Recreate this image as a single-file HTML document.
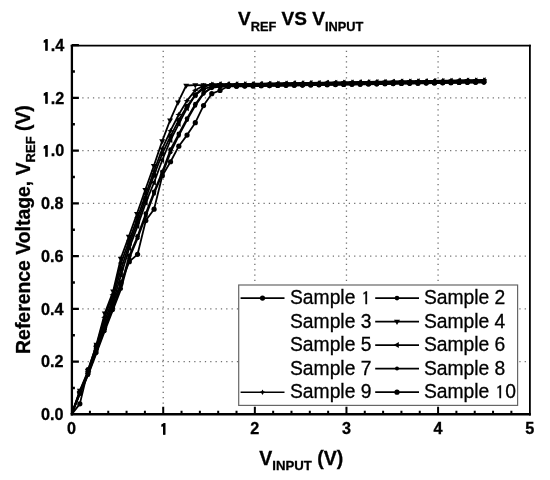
<!DOCTYPE html>
<html><head><meta charset="utf-8"><title>VREF vs VINPUT</title>
<style>
html,body{margin:0;padding:0;background:#fff;}
body{width:550px;height:480px;overflow:hidden;}
svg{display:block;}
text{font-family:"Liberation Sans",Arial,sans-serif;fill:#000;}
.b{font-weight:bold;stroke:#000;stroke-width:0.3px;}
.lt{stroke:#000;stroke-width:0.3px;}
.o{font-family:"IPAGothic","Liberation Sans",sans-serif;stroke:#000;}
</style></head><body>
<svg width="550" height="480" viewBox="0 0 550 480">
<rect width="550" height="480" fill="#fff"/>
<g stroke="#707070" stroke-width="1.3" stroke-dasharray="1.25 4.08" transform="translate(0 -0.62)"><line x1="163.22" y1="51.25" x2="163.22" y2="412"/><line x1="254.84" y1="51.25" x2="254.84" y2="412"/><line x1="346.46" y1="51.25" x2="346.46" y2="412"/><line x1="438.08" y1="51.25" x2="438.08" y2="412"/></g>
<g stroke="#707070" stroke-width="1.3" stroke-dasharray="1.25 4.08" transform="translate(-0.62 0)"><line x1="82.9" y1="361.65" x2="528" y2="361.65"/><line x1="82.9" y1="308.90" x2="528" y2="308.90"/><line x1="82.9" y1="256.15" x2="528" y2="256.15"/><line x1="82.9" y1="203.40" x2="528" y2="203.40"/><line x1="82.9" y1="150.65" x2="528" y2="150.65"/><line x1="82.9" y1="97.90" x2="528" y2="97.90"/></g>
<path d="M71.60 414.40 L79.85 390.66 L88.09 370.88 L96.44 344.51 L104.78 313.38 L113.13 291.23 L120.77 258.52 L128.82 236.63 L136.97 213.69 L145.31 189.68 L153.86 165.68 L162.20 141.15 L170.05 120.32 L178.00 102.38 L186.24 85.50 L195.29 85.11 L203.53 85.11 L211.78 85.11 L220.02 85.11 L228.27 85.11 L236.52 85.11 L244.76 84.97 L253.01 84.84 L261.25 84.70 L269.50 84.57 L277.75 84.43 L285.99 84.30 L294.24 84.16 L302.48 84.03 L310.73 83.89 L318.97 83.76 L327.22 83.62 L335.47 83.48 L343.71 83.35 L351.96 83.21 L360.20 83.08 L368.45 82.94 L376.69 82.81 L384.94 82.67 L393.19 82.54 L401.43 82.40 L409.68 82.27 L417.92 82.13 L426.17 82.00 L434.42 81.86 L442.66 81.73 L450.91 81.59 L459.15 81.45 L467.40 81.32 L475.64 81.18 L483.89 81.05" fill="none" stroke="#000" stroke-width="1.8" stroke-linejoin="round"/>
<g fill="#000"><path d="M76.85 388.86H82.85L79.85 393.96Z"/><path d="M85.09 369.08H91.09L88.09 374.18Z"/><path d="M93.44 342.71H99.44L96.44 347.81Z"/><path d="M101.78 311.58H107.78L104.78 316.68Z"/><path d="M110.13 289.43H116.13L113.13 294.53Z"/><path d="M117.77 256.72H123.77L120.77 261.82Z"/><path d="M125.82 234.83H131.82L128.82 239.93Z"/><path d="M133.97 211.89H139.97L136.97 216.99Z"/><path d="M142.31 187.88H148.31L145.31 192.98Z"/><path d="M150.86 163.88H156.86L153.86 168.98Z"/><path d="M159.20 139.35H165.20L162.20 144.45Z"/><path d="M167.05 118.52H173.05L170.05 123.62Z"/><path d="M175.00 100.58H181.00L178.00 105.68Z"/><path d="M183.24 83.70H189.24L186.24 88.80Z"/><path d="M192.29 83.31H198.29L195.29 88.41Z"/><path d="M200.53 83.31H206.53L203.53 88.41Z"/><path d="M208.78 83.31H214.78L211.78 88.41Z"/><path d="M217.02 83.31H223.02L220.02 88.41Z"/><path d="M225.27 83.31H231.27L228.27 88.41Z"/><path d="M233.52 83.31H239.52L236.52 88.41Z"/><path d="M241.76 83.17H247.76L244.76 88.27Z"/><path d="M250.01 83.04H256.01L253.01 88.14Z"/><path d="M258.25 82.90H264.25L261.25 88.00Z"/><path d="M266.50 82.77H272.50L269.50 87.87Z"/><path d="M274.75 82.63H280.75L277.75 87.73Z"/><path d="M282.99 82.50H288.99L285.99 87.60Z"/><path d="M291.24 82.36H297.24L294.24 87.46Z"/><path d="M299.48 82.23H305.48L302.48 87.33Z"/><path d="M307.73 82.09H313.73L310.73 87.19Z"/><path d="M315.97 81.96H321.97L318.97 87.06Z"/><path d="M324.22 81.82H330.22L327.22 86.92Z"/><path d="M332.47 81.68H338.47L335.47 86.78Z"/><path d="M340.71 81.55H346.71L343.71 86.65Z"/><path d="M348.96 81.41H354.96L351.96 86.51Z"/><path d="M357.20 81.28H363.20L360.20 86.38Z"/><path d="M365.45 81.14H371.45L368.45 86.24Z"/><path d="M373.69 81.01H379.69L376.69 86.11Z"/><path d="M381.94 80.87H387.94L384.94 85.97Z"/><path d="M390.19 80.74H396.19L393.19 85.84Z"/><path d="M398.43 80.60H404.43L401.43 85.70Z"/><path d="M406.68 80.47H412.68L409.68 85.57Z"/><path d="M414.92 80.33H420.92L417.92 85.43Z"/><path d="M423.17 80.20H429.17L426.17 85.30Z"/><path d="M431.42 80.06H437.42L434.42 85.16Z"/><path d="M439.66 79.93H445.66L442.66 85.03Z"/><path d="M447.91 79.79H453.91L450.91 84.89Z"/><path d="M456.15 79.65H462.15L459.15 84.75Z"/><path d="M464.40 79.52H470.40L467.40 84.62Z"/><path d="M472.64 79.38H478.64L475.64 84.48Z"/><path d="M480.89 79.25H486.89L483.89 84.35Z"/></g>
<path d="M71.60 414.40 L79.85 391.42 L88.09 371.75 L96.34 346.27 L104.58 317.27 L112.83 294.68 L121.07 263.09 L129.32 240.18 L137.57 217.63 L145.81 194.00 L154.06 171.06 L162.30 148.74 L170.55 130.68 L178.80 114.52 L187.04 100.63 L195.29 90.27 L203.53 85.52 L211.78 84.32 L220.02 84.10 L228.27 84.06 L236.52 84.05 L244.76 83.92 L253.01 83.78 L261.25 83.65 L269.50 83.51 L277.75 83.38 L285.99 83.24 L294.24 83.11 L302.48 82.97 L310.73 82.84 L318.97 82.70 L327.22 82.56 L335.47 82.43 L343.71 82.29 L351.96 82.16 L360.20 82.02 L368.45 81.89 L376.69 81.75 L384.94 81.62 L393.19 81.48 L401.43 81.35 L409.68 81.21 L417.92 81.08 L426.17 80.94 L434.42 80.81 L442.66 80.67 L450.91 80.54 L459.15 80.40 L467.40 80.26 L475.64 80.13 L483.89 79.99" fill="none" stroke="#000" stroke-width="1.8" stroke-linejoin="round"/>
<g fill="#000"><path d="M79.85 388.62L80.85 390.42L83.25 391.42L80.85 392.42L79.85 394.22L78.85 392.42L76.45 391.42L78.85 390.42Z"/><path d="M88.09 368.95L89.09 370.75L91.49 371.75L89.09 372.75L88.09 374.55L87.09 372.75L84.69 371.75L87.09 370.75Z"/><path d="M96.34 343.47L97.34 345.27L99.74 346.27L97.34 347.27L96.34 349.07L95.34 347.27L92.94 346.27L95.34 345.27Z"/><path d="M104.58 314.47L105.58 316.27L107.98 317.27L105.58 318.27L104.58 320.07L103.58 318.27L101.18 317.27L103.58 316.27Z"/><path d="M112.83 291.88L113.83 293.68L116.23 294.68L113.83 295.68L112.83 297.48L111.83 295.68L109.43 294.68L111.83 293.68Z"/><path d="M121.07 260.29L122.07 262.09L124.47 263.09L122.07 264.09L121.07 265.89L120.07 264.09L117.67 263.09L120.07 262.09Z"/><path d="M129.32 237.38L130.32 239.18L132.72 240.18L130.32 241.18L129.32 242.98L128.32 241.18L125.92 240.18L128.32 239.18Z"/><path d="M137.57 214.83L138.57 216.63L140.97 217.63L138.57 218.63L137.57 220.43L136.57 218.63L134.17 217.63L136.57 216.63Z"/><path d="M145.81 191.20L146.81 193.00L149.21 194.00L146.81 195.00L145.81 196.80L144.81 195.00L142.41 194.00L144.81 193.00Z"/><path d="M154.06 168.26L155.06 170.06L157.46 171.06L155.06 172.06L154.06 173.86L153.06 172.06L150.66 171.06L153.06 170.06Z"/><path d="M162.30 145.94L163.30 147.74L165.70 148.74L163.30 149.74L162.30 151.54L161.30 149.74L158.90 148.74L161.30 147.74Z"/><path d="M170.55 127.88L171.55 129.68L173.95 130.68L171.55 131.68L170.55 133.48L169.55 131.68L167.15 130.68L169.55 129.68Z"/><path d="M178.80 111.72L179.80 113.52L182.20 114.52L179.80 115.52L178.80 117.32L177.80 115.52L175.40 114.52L177.80 113.52Z"/><path d="M187.04 97.83L188.04 99.63L190.44 100.63L188.04 101.63L187.04 103.43L186.04 101.63L183.64 100.63L186.04 99.63Z"/><path d="M195.29 87.47L196.29 89.27L198.69 90.27L196.29 91.27L195.29 93.07L194.29 91.27L191.89 90.27L194.29 89.27Z"/><path d="M203.53 82.72L204.53 84.52L206.93 85.52L204.53 86.52L203.53 88.32L202.53 86.52L200.13 85.52L202.53 84.52Z"/><path d="M211.78 81.52L212.78 83.32L215.18 84.32L212.78 85.32L211.78 87.12L210.78 85.32L208.38 84.32L210.78 83.32Z"/><path d="M220.02 81.30L221.02 83.10L223.42 84.10L221.02 85.10L220.02 86.90L219.02 85.10L216.62 84.10L219.02 83.10Z"/><path d="M228.27 81.26L229.27 83.06L231.67 84.06L229.27 85.06L228.27 86.86L227.27 85.06L224.87 84.06L227.27 83.06Z"/><path d="M236.52 81.25L237.52 83.05L239.92 84.05L237.52 85.05L236.52 86.85L235.52 85.05L233.12 84.05L235.52 83.05Z"/><path d="M244.76 81.12L245.76 82.92L248.16 83.92L245.76 84.92L244.76 86.72L243.76 84.92L241.36 83.92L243.76 82.92Z"/><path d="M253.01 80.98L254.01 82.78L256.41 83.78L254.01 84.78L253.01 86.58L252.01 84.78L249.61 83.78L252.01 82.78Z"/><path d="M261.25 80.85L262.25 82.65L264.65 83.65L262.25 84.65L261.25 86.45L260.25 84.65L257.85 83.65L260.25 82.65Z"/><path d="M269.50 80.71L270.50 82.51L272.90 83.51L270.50 84.51L269.50 86.31L268.50 84.51L266.10 83.51L268.50 82.51Z"/><path d="M277.75 80.58L278.75 82.38L281.14 83.38L278.75 84.38L277.75 86.18L276.75 84.38L274.35 83.38L276.75 82.38Z"/><path d="M285.99 80.44L286.99 82.24L289.39 83.24L286.99 84.24L285.99 86.04L284.99 84.24L282.59 83.24L284.99 82.24Z"/><path d="M294.24 80.31L295.24 82.11L297.64 83.11L295.24 84.11L294.24 85.91L293.24 84.11L290.84 83.11L293.24 82.11Z"/><path d="M302.48 80.17L303.48 81.97L305.88 82.97L303.48 83.97L302.48 85.77L301.48 83.97L299.08 82.97L301.48 81.97Z"/><path d="M310.73 80.04L311.73 81.84L314.13 82.84L311.73 83.84L310.73 85.64L309.73 83.84L307.33 82.84L309.73 81.84Z"/><path d="M318.97 79.90L319.97 81.70L322.37 82.70L319.97 83.70L318.97 85.50L317.97 83.70L315.57 82.70L317.97 81.70Z"/><path d="M327.22 79.76L328.22 81.56L330.62 82.56L328.22 83.56L327.22 85.36L326.22 83.56L323.82 82.56L326.22 81.56Z"/><path d="M335.47 79.63L336.47 81.43L338.87 82.43L336.47 83.43L335.47 85.23L334.47 83.43L332.07 82.43L334.47 81.43Z"/><path d="M343.71 79.49L344.71 81.29L347.11 82.29L344.71 83.29L343.71 85.09L342.71 83.29L340.31 82.29L342.71 81.29Z"/><path d="M351.96 79.36L352.96 81.16L355.36 82.16L352.96 83.16L351.96 84.96L350.96 83.16L348.56 82.16L350.96 81.16Z"/><path d="M360.20 79.22L361.20 81.02L363.60 82.02L361.20 83.02L360.20 84.82L359.20 83.02L356.80 82.02L359.20 81.02Z"/><path d="M368.45 79.09L369.45 80.89L371.85 81.89L369.45 82.89L368.45 84.69L367.45 82.89L365.05 81.89L367.45 80.89Z"/><path d="M376.69 78.95L377.69 80.75L380.09 81.75L377.69 82.75L376.69 84.55L375.69 82.75L373.29 81.75L375.69 80.75Z"/><path d="M384.94 78.82L385.94 80.62L388.34 81.62L385.94 82.62L384.94 84.42L383.94 82.62L381.54 81.62L383.94 80.62Z"/><path d="M393.19 78.68L394.19 80.48L396.59 81.48L394.19 82.48L393.19 84.28L392.19 82.48L389.79 81.48L392.19 80.48Z"/><path d="M401.43 78.55L402.43 80.35L404.83 81.35L402.43 82.35L401.43 84.15L400.43 82.35L398.03 81.35L400.43 80.35Z"/><path d="M409.68 78.41L410.68 80.21L413.08 81.21L410.68 82.21L409.68 84.01L408.68 82.21L406.28 81.21L408.68 80.21Z"/><path d="M417.92 78.28L418.92 80.08L421.32 81.08L418.92 82.08L417.92 83.88L416.92 82.08L414.52 81.08L416.92 80.08Z"/><path d="M426.17 78.14L427.17 79.94L429.57 80.94L427.17 81.94L426.17 83.74L425.17 81.94L422.77 80.94L425.17 79.94Z"/><path d="M434.42 78.01L435.42 79.81L437.82 80.81L435.42 81.81L434.42 83.61L433.42 81.81L431.02 80.81L433.42 79.81Z"/><path d="M442.66 77.87L443.66 79.67L446.06 80.67L443.66 81.67L442.66 83.47L441.66 81.67L439.26 80.67L441.66 79.67Z"/><path d="M450.91 77.74L451.91 79.54L454.31 80.54L451.91 81.54L450.91 83.34L449.91 81.54L447.51 80.54L449.91 79.54Z"/><path d="M459.15 77.60L460.15 79.40L462.55 80.40L460.15 81.40L459.15 83.20L458.15 81.40L455.75 80.40L458.15 79.40Z"/><path d="M467.40 77.46L468.40 79.26L470.80 80.26L468.40 81.26L467.40 83.06L466.40 81.26L464.00 80.26L466.40 79.26Z"/><path d="M475.64 77.33L476.64 79.13L479.04 80.13L476.64 81.13L475.64 82.93L474.64 81.13L472.24 80.13L474.64 79.13Z"/><path d="M483.89 77.19L484.89 78.99L487.29 79.99L484.89 80.99L483.89 82.79L482.89 80.99L480.49 79.99L482.89 78.99Z"/></g>
<path d="M71.60 414.40 L79.85 392.12 L88.09 372.60 L96.34 348.46 L104.58 321.65 L112.83 298.66 L121.07 269.03 L129.32 244.06 L137.57 221.86 L145.81 198.31 L154.06 175.15 L162.30 153.74 L170.55 136.09 L178.80 120.05 L187.04 106.26 L195.29 95.16 L203.53 88.86 L211.78 86.77 L220.02 86.29 L228.27 86.19 L236.52 86.17 L244.76 86.03 L253.01 85.89 L261.25 85.76 L269.50 85.62 L277.75 85.49 L285.99 85.35 L294.24 85.22 L302.48 85.08 L310.73 84.95 L318.97 84.81 L327.22 84.67 L335.47 84.54 L343.71 84.40 L351.96 84.27 L360.20 84.13 L368.45 84.00 L376.69 83.86 L384.94 83.73 L393.19 83.59 L401.43 83.46 L409.68 83.32 L417.92 83.19 L426.17 83.05 L434.42 82.92 L442.66 82.78 L450.91 82.65 L459.15 82.51 L467.40 82.37 L475.64 82.24 L483.89 82.10" fill="none" stroke="#000" stroke-width="1.8" stroke-linejoin="round"/>
<g fill="#000"><circle cx="79.85" cy="392.12" r="2.6"/><circle cx="88.09" cy="372.60" r="2.6"/><circle cx="96.34" cy="348.46" r="2.6"/><circle cx="104.58" cy="321.65" r="2.6"/><circle cx="112.83" cy="298.66" r="2.6"/><circle cx="121.07" cy="269.03" r="2.6"/><circle cx="129.32" cy="244.06" r="2.6"/><circle cx="137.57" cy="221.86" r="2.6"/><circle cx="145.81" cy="198.31" r="2.6"/><circle cx="154.06" cy="175.15" r="2.6"/><circle cx="162.30" cy="153.74" r="2.6"/><circle cx="170.55" cy="136.09" r="2.6"/><circle cx="178.80" cy="120.05" r="2.6"/><circle cx="187.04" cy="106.26" r="2.6"/><circle cx="195.29" cy="95.16" r="2.6"/><circle cx="203.53" cy="88.86" r="2.6"/><circle cx="211.78" cy="86.77" r="2.6"/><circle cx="220.02" cy="86.29" r="2.6"/><circle cx="228.27" cy="86.19" r="2.6"/><circle cx="236.52" cy="86.17" r="2.6"/><circle cx="244.76" cy="86.03" r="2.6"/><circle cx="253.01" cy="85.89" r="2.6"/><circle cx="261.25" cy="85.76" r="2.6"/><circle cx="269.50" cy="85.62" r="2.6"/><circle cx="277.75" cy="85.49" r="2.6"/><circle cx="285.99" cy="85.35" r="2.6"/><circle cx="294.24" cy="85.22" r="2.6"/><circle cx="302.48" cy="85.08" r="2.6"/><circle cx="310.73" cy="84.95" r="2.6"/><circle cx="318.97" cy="84.81" r="2.6"/><circle cx="327.22" cy="84.67" r="2.6"/><circle cx="335.47" cy="84.54" r="2.6"/><circle cx="343.71" cy="84.40" r="2.6"/><circle cx="351.96" cy="84.27" r="2.6"/><circle cx="360.20" cy="84.13" r="2.6"/><circle cx="368.45" cy="84.00" r="2.6"/><circle cx="376.69" cy="83.86" r="2.6"/><circle cx="384.94" cy="83.73" r="2.6"/><circle cx="393.19" cy="83.59" r="2.6"/><circle cx="401.43" cy="83.46" r="2.6"/><circle cx="409.68" cy="83.32" r="2.6"/><circle cx="417.92" cy="83.19" r="2.6"/><circle cx="426.17" cy="83.05" r="2.6"/><circle cx="434.42" cy="82.92" r="2.6"/><circle cx="442.66" cy="82.78" r="2.6"/><circle cx="450.91" cy="82.65" r="2.6"/><circle cx="459.15" cy="82.51" r="2.6"/><circle cx="467.40" cy="82.37" r="2.6"/><circle cx="475.64" cy="82.24" r="2.6"/><circle cx="483.89" cy="82.10" r="2.6"/></g>
<path d="M71.60 414.40 L79.85 392.79 L88.09 373.44 L96.34 350.37 L104.58 325.52 L112.83 302.64 L121.07 274.96 L129.32 247.94 L137.57 226.08 L145.81 202.74 L154.06 182.50 L162.30 159.97 L170.55 140.01 L178.80 123.79 L187.04 108.19 L195.29 94.92 L203.53 86.91 L211.78 84.71 L220.02 84.37 L228.27 84.32 L236.52 84.32 L244.76 84.18 L253.01 84.05 L261.25 83.91 L269.50 83.78 L277.75 83.64 L285.99 83.51 L294.24 83.37 L302.48 83.23 L310.73 83.10 L318.97 82.96 L327.22 82.83 L335.47 82.69 L343.71 82.56 L351.96 82.42 L360.20 82.29 L368.45 82.15 L376.69 82.02 L384.94 81.88 L393.19 81.75 L401.43 81.61 L409.68 81.48 L417.92 81.34 L426.17 81.20 L434.42 81.07 L442.66 80.93 L450.91 80.80 L459.15 80.66 L467.40 80.53 L475.64 80.39 L483.89 80.26" fill="none" stroke="#000" stroke-width="1.8" stroke-linejoin="round"/>
<g fill="#000"><path d="M76.55 392.79L81.65 389.79V395.79Z"/><path d="M84.79 373.44L89.89 370.44V376.44Z"/><path d="M93.04 350.37L98.14 347.37V353.37Z"/><path d="M101.28 325.52L106.38 322.52V328.52Z"/><path d="M109.53 302.64L114.63 299.64V305.64Z"/><path d="M117.77 274.96L122.87 271.96V277.96Z"/><path d="M126.02 247.94L131.12 244.94V250.94Z"/><path d="M134.27 226.08L139.37 223.08V229.08Z"/><path d="M142.51 202.74L147.61 199.74V205.74Z"/><path d="M150.76 182.50L155.86 179.50V185.50Z"/><path d="M159.00 159.97L164.10 156.97V162.97Z"/><path d="M167.25 140.01L172.35 137.01V143.01Z"/><path d="M175.50 123.79L180.60 120.79V126.79Z"/><path d="M183.74 108.19L188.84 105.19V111.19Z"/><path d="M191.99 94.92L197.09 91.92V97.92Z"/><path d="M200.23 86.91L205.33 83.91V89.91Z"/><path d="M208.48 84.71L213.58 81.71V87.71Z"/><path d="M216.72 84.37L221.82 81.37V87.37Z"/><path d="M224.97 84.32L230.07 81.32V87.32Z"/><path d="M233.22 84.32L238.32 81.32V87.32Z"/><path d="M241.46 84.18L246.56 81.18V87.18Z"/><path d="M249.71 84.05L254.81 81.05V87.05Z"/><path d="M257.95 83.91L263.05 80.91V86.91Z"/><path d="M266.20 83.78L271.30 80.78V86.78Z"/><path d="M274.44 83.64L279.55 80.64V86.64Z"/><path d="M282.69 83.51L287.79 80.51V86.51Z"/><path d="M290.94 83.37L296.04 80.37V86.37Z"/><path d="M299.18 83.23L304.28 80.23V86.23Z"/><path d="M307.43 83.10L312.53 80.10V86.10Z"/><path d="M315.67 82.96L320.77 79.96V85.96Z"/><path d="M323.92 82.83L329.02 79.83V85.83Z"/><path d="M332.17 82.69L337.27 79.69V85.69Z"/><path d="M340.41 82.56L345.51 79.56V85.56Z"/><path d="M348.66 82.42L353.76 79.42V85.42Z"/><path d="M356.90 82.29L362.00 79.29V85.29Z"/><path d="M365.15 82.15L370.25 79.15V85.15Z"/><path d="M373.39 82.02L378.49 79.02V85.02Z"/><path d="M381.64 81.88L386.74 78.88V84.88Z"/><path d="M389.89 81.75L394.99 78.75V84.75Z"/><path d="M398.13 81.61L403.23 78.61V84.61Z"/><path d="M406.38 81.48L411.48 78.48V84.48Z"/><path d="M414.62 81.34L419.72 78.34V84.34Z"/><path d="M422.87 81.20L427.97 78.20V84.20Z"/><path d="M431.12 81.07L436.22 78.07V84.07Z"/><path d="M439.36 80.93L444.46 77.93V83.93Z"/><path d="M447.61 80.80L452.71 77.80V83.80Z"/><path d="M455.85 80.66L460.95 77.66V83.66Z"/><path d="M464.10 80.53L469.20 77.53V83.53Z"/><path d="M472.34 80.39L477.44 77.39V83.39Z"/><path d="M480.59 80.26L485.69 77.26V83.26Z"/></g>
<path d="M71.60 414.40 L79.85 393.41 L88.09 374.26 L96.34 352.06 L104.58 329.30 L112.83 308.00 L121.07 284.86 L129.32 255.74 L137.57 236.30 L145.81 213.60 L154.06 191.83 L162.30 171.73 L170.55 149.52 L178.80 133.90 L187.04 118.51 L195.29 104.17 L203.53 93.10 L211.78 87.87 L220.02 86.66 L228.27 86.46 L236.52 86.43 L244.76 86.29 L253.01 86.16 L261.25 86.02 L269.50 85.89 L277.75 85.75 L285.99 85.62 L294.24 85.48 L302.48 85.34 L310.73 85.21 L318.97 85.07 L327.22 84.94 L335.47 84.80 L343.71 84.67 L351.96 84.53 L360.20 84.40 L368.45 84.26 L376.69 84.13 L384.94 83.99 L393.19 83.86 L401.43 83.72 L409.68 83.59 L417.92 83.45 L426.17 83.31 L434.42 83.18 L442.66 83.04 L450.91 82.91 L459.15 82.77 L467.40 82.64 L475.64 82.50 L483.89 82.37" fill="none" stroke="#000" stroke-width="1.8" stroke-linejoin="round"/>
<g fill="#000"><circle cx="79.85" cy="393.41" r="2.3"/><circle cx="88.09" cy="374.26" r="2.3"/><circle cx="96.34" cy="352.06" r="2.3"/><circle cx="104.58" cy="329.30" r="2.3"/><circle cx="112.83" cy="308.00" r="2.3"/><circle cx="121.07" cy="284.86" r="2.3"/><circle cx="129.32" cy="255.74" r="2.3"/><circle cx="137.57" cy="236.30" r="2.3"/><circle cx="145.81" cy="213.60" r="2.3"/><circle cx="154.06" cy="191.83" r="2.3"/><circle cx="162.30" cy="171.73" r="2.3"/><circle cx="170.55" cy="149.52" r="2.3"/><circle cx="178.80" cy="133.90" r="2.3"/><circle cx="187.04" cy="118.51" r="2.3"/><circle cx="195.29" cy="104.17" r="2.3"/><circle cx="203.53" cy="93.10" r="2.3"/><circle cx="211.78" cy="87.87" r="2.3"/><circle cx="220.02" cy="86.66" r="2.3"/><circle cx="228.27" cy="86.46" r="2.3"/><circle cx="236.52" cy="86.43" r="2.3"/><circle cx="244.76" cy="86.29" r="2.3"/><circle cx="253.01" cy="86.16" r="2.3"/><circle cx="261.25" cy="86.02" r="2.3"/><circle cx="269.50" cy="85.89" r="2.3"/><circle cx="277.75" cy="85.75" r="2.3"/><circle cx="285.99" cy="85.62" r="2.3"/><circle cx="294.24" cy="85.48" r="2.3"/><circle cx="302.48" cy="85.34" r="2.3"/><circle cx="310.73" cy="85.21" r="2.3"/><circle cx="318.97" cy="85.07" r="2.3"/><circle cx="327.22" cy="84.94" r="2.3"/><circle cx="335.47" cy="84.80" r="2.3"/><circle cx="343.71" cy="84.67" r="2.3"/><circle cx="351.96" cy="84.53" r="2.3"/><circle cx="360.20" cy="84.40" r="2.3"/><circle cx="368.45" cy="84.26" r="2.3"/><circle cx="376.69" cy="84.13" r="2.3"/><circle cx="384.94" cy="83.99" r="2.3"/><circle cx="393.19" cy="83.86" r="2.3"/><circle cx="401.43" cy="83.72" r="2.3"/><circle cx="409.68" cy="83.59" r="2.3"/><circle cx="417.92" cy="83.45" r="2.3"/><circle cx="426.17" cy="83.31" r="2.3"/><circle cx="434.42" cy="83.18" r="2.3"/><circle cx="442.66" cy="83.04" r="2.3"/><circle cx="450.91" cy="82.91" r="2.3"/><circle cx="459.15" cy="82.77" r="2.3"/><circle cx="467.40" cy="82.64" r="2.3"/><circle cx="475.64" cy="82.50" r="2.3"/><circle cx="483.89" cy="82.37" r="2.3"/></g>
<path d="M71.60 414.40 L79.85 394.00 L88.09 375.07 L96.34 353.33 L104.58 331.35 L112.83 310.23 L121.07 288.81 L129.32 258.19 L137.57 238.35 L145.81 215.93 L154.06 193.75 L162.30 173.99 L170.55 152.32 L178.80 135.68 L187.04 119.98 L195.29 105.67 L203.53 93.77 L211.78 87.08 L220.02 85.23 L228.27 84.90 L236.52 84.85 L244.76 84.71 L253.01 84.57 L261.25 84.44 L269.50 84.30 L277.75 84.17 L285.99 84.03 L294.24 83.90 L302.48 83.76 L310.73 83.63 L318.97 83.49 L327.22 83.36 L335.47 83.22 L343.71 83.09 L351.96 82.95 L360.20 82.81 L368.45 82.68 L376.69 82.54 L384.94 82.41 L393.19 82.27 L401.43 82.14 L409.68 82.00 L417.92 81.87 L426.17 81.73 L434.42 81.60 L442.66 81.46 L450.91 81.33 L459.15 81.19 L467.40 81.06 L475.64 80.92 L483.89 80.79" fill="none" stroke="#000" stroke-width="1.8" stroke-linejoin="round"/>
<g fill="#000"><circle cx="79.85" cy="394.00" r="2.0"/><circle cx="88.09" cy="375.07" r="2.0"/><circle cx="96.34" cy="353.33" r="2.0"/><circle cx="104.58" cy="331.35" r="2.0"/><circle cx="112.83" cy="310.23" r="2.0"/><circle cx="121.07" cy="288.81" r="2.0"/><circle cx="129.32" cy="258.19" r="2.0"/><circle cx="137.57" cy="238.35" r="2.0"/><circle cx="145.81" cy="215.93" r="2.0"/><circle cx="154.06" cy="193.75" r="2.0"/><circle cx="162.30" cy="173.99" r="2.0"/><circle cx="170.55" cy="152.32" r="2.0"/><circle cx="178.80" cy="135.68" r="2.0"/><circle cx="187.04" cy="119.98" r="2.0"/><circle cx="195.29" cy="105.67" r="2.0"/><circle cx="203.53" cy="93.77" r="2.0"/><circle cx="211.78" cy="87.08" r="2.0"/><circle cx="220.02" cy="85.23" r="2.0"/><circle cx="228.27" cy="84.90" r="2.0"/><circle cx="236.52" cy="84.85" r="2.0"/><circle cx="244.76" cy="84.71" r="2.0"/><circle cx="253.01" cy="84.57" r="2.0"/><circle cx="261.25" cy="84.44" r="2.0"/><circle cx="269.50" cy="84.30" r="2.0"/><circle cx="277.75" cy="84.17" r="2.0"/><circle cx="285.99" cy="84.03" r="2.0"/><circle cx="294.24" cy="83.90" r="2.0"/><circle cx="302.48" cy="83.76" r="2.0"/><circle cx="310.73" cy="83.63" r="2.0"/><circle cx="318.97" cy="83.49" r="2.0"/><circle cx="327.22" cy="83.36" r="2.0"/><circle cx="335.47" cy="83.22" r="2.0"/><circle cx="343.71" cy="83.09" r="2.0"/><circle cx="351.96" cy="82.95" r="2.0"/><circle cx="360.20" cy="82.81" r="2.0"/><circle cx="368.45" cy="82.68" r="2.0"/><circle cx="376.69" cy="82.54" r="2.0"/><circle cx="384.94" cy="82.41" r="2.0"/><circle cx="393.19" cy="82.27" r="2.0"/><circle cx="401.43" cy="82.14" r="2.0"/><circle cx="409.68" cy="82.00" r="2.0"/><circle cx="417.92" cy="81.87" r="2.0"/><circle cx="426.17" cy="81.73" r="2.0"/><circle cx="434.42" cy="81.60" r="2.0"/><circle cx="442.66" cy="81.46" r="2.0"/><circle cx="450.91" cy="81.33" r="2.0"/><circle cx="459.15" cy="81.19" r="2.0"/><circle cx="467.40" cy="81.06" r="2.0"/><circle cx="475.64" cy="80.92" r="2.0"/><circle cx="483.89" cy="80.79" r="2.0"/></g>
<path d="M71.60 414.40 L79.85 403.85 L88.09 369.56 L96.34 345.82 L104.58 327.36 L112.83 303.62 L121.07 282.52 L129.32 261.69 L137.57 254.30 L145.81 220.54 L154.06 209.20 L162.30 175.71 L170.55 161.73 L178.80 146.17 L187.04 135.09 L195.29 122.69 L203.53 105.55 L211.78 93.68 L220.02 90.51 L228.27 86.29 L236.52 85.64 L244.76 85.50 L253.01 85.37 L261.25 85.23 L269.50 85.09 L277.75 84.96 L285.99 84.82 L294.24 84.69 L302.48 84.55 L310.73 84.42 L318.97 84.28 L327.22 84.15 L335.47 84.01 L343.71 83.88 L351.96 83.74 L360.20 83.61 L368.45 83.47 L376.69 83.34 L384.94 83.20 L393.19 83.06 L401.43 82.93 L409.68 82.79 L417.92 82.66 L426.17 82.52 L434.42 82.39 L442.66 82.25 L450.91 82.12 L459.15 81.98 L467.40 81.85 L475.64 81.71 L483.89 81.58" fill="none" stroke="#000" stroke-width="1.8" stroke-linejoin="round"/>
<g fill="#000"><circle cx="79.85" cy="403.85" r="2.6"/><circle cx="88.09" cy="369.56" r="2.6"/><circle cx="96.34" cy="345.82" r="2.6"/><circle cx="104.58" cy="327.36" r="2.6"/><circle cx="112.83" cy="303.62" r="2.6"/><circle cx="121.07" cy="282.52" r="2.6"/><circle cx="129.32" cy="261.69" r="2.6"/><circle cx="137.57" cy="254.30" r="2.6"/><circle cx="145.81" cy="220.54" r="2.6"/><circle cx="154.06" cy="209.20" r="2.6"/><circle cx="162.30" cy="175.71" r="2.6"/><circle cx="170.55" cy="161.73" r="2.6"/><circle cx="178.80" cy="146.17" r="2.6"/><circle cx="187.04" cy="135.09" r="2.6"/><circle cx="195.29" cy="122.69" r="2.6"/><circle cx="203.53" cy="105.55" r="2.6"/><circle cx="211.78" cy="93.68" r="2.6"/><circle cx="220.02" cy="90.51" r="2.6"/><circle cx="228.27" cy="86.29" r="2.6"/><circle cx="236.52" cy="85.64" r="2.6"/><circle cx="244.76" cy="85.50" r="2.6"/><circle cx="253.01" cy="85.37" r="2.6"/><circle cx="261.25" cy="85.23" r="2.6"/><circle cx="269.50" cy="85.09" r="2.6"/><circle cx="277.75" cy="84.96" r="2.6"/><circle cx="285.99" cy="84.82" r="2.6"/><circle cx="294.24" cy="84.69" r="2.6"/><circle cx="302.48" cy="84.55" r="2.6"/><circle cx="310.73" cy="84.42" r="2.6"/><circle cx="318.97" cy="84.28" r="2.6"/><circle cx="327.22" cy="84.15" r="2.6"/><circle cx="335.47" cy="84.01" r="2.6"/><circle cx="343.71" cy="83.88" r="2.6"/><circle cx="351.96" cy="83.74" r="2.6"/><circle cx="360.20" cy="83.61" r="2.6"/><circle cx="368.45" cy="83.47" r="2.6"/><circle cx="376.69" cy="83.34" r="2.6"/><circle cx="384.94" cy="83.20" r="2.6"/><circle cx="393.19" cy="83.06" r="2.6"/><circle cx="401.43" cy="82.93" r="2.6"/><circle cx="409.68" cy="82.79" r="2.6"/><circle cx="417.92" cy="82.66" r="2.6"/><circle cx="426.17" cy="82.52" r="2.6"/><circle cx="434.42" cy="82.39" r="2.6"/><circle cx="442.66" cy="82.25" r="2.6"/><circle cx="450.91" cy="82.12" r="2.6"/><circle cx="459.15" cy="81.98" r="2.6"/><circle cx="467.40" cy="81.85" r="2.6"/><circle cx="475.64" cy="81.71" r="2.6"/><circle cx="483.89" cy="81.58" r="2.6"/></g>
<path d="M70.75 45.6H530.8" stroke="#000" stroke-width="1.9"/><path d="M529.9 44.65V415.6" stroke="#000" stroke-width="1.8"/><path d="M71.9 44.65V415.6" stroke="#000" stroke-width="2.3"/><path d="M70.75 414.25H530.8" stroke="#000" stroke-width="2.7"/><path d="M71.9 388.02h3M71.9 361.65h7M71.9 335.27h3M71.9 308.90h7M71.9 282.52h3M71.9 256.15h7M71.9 229.77h3M71.9 203.40h7M71.9 177.02h3M71.9 150.65h7M71.9 124.27h3M71.9 97.90h7M71.9 71.52h3M71.9 45.15h7" stroke="#000" stroke-width="2.3" fill="none"/><path d="M89.92 414.25v-3.4M108.25 414.25v-3.4M126.57 414.25v-3.4M144.90 414.25v-3.4M163.22 414.25v-7.5M181.54 414.25v-3.4M199.87 414.25v-3.4M218.19 414.25v-3.4M236.52 414.25v-3.4M254.84 414.25v-7.5M273.16 414.25v-3.4M291.49 414.25v-3.4M309.81 414.25v-3.4M328.14 414.25v-3.4M346.46 414.25v-7.5M364.78 414.25v-3.4M383.11 414.25v-3.4M401.43 414.25v-3.4M419.76 414.25v-3.4M438.08 414.25v-7.5M456.40 414.25v-3.4M474.73 414.25v-3.4M493.05 414.25v-3.4M511.38 414.25v-3.4" stroke="#000" stroke-width="2.0" fill="none"/>
<g font-size="16.2"><text class="b tl" x="63.6" y="420.10" text-anchor="end">0.0</text><text class="b tl" x="63.6" y="367.35" text-anchor="end">0.2</text><text class="b tl" x="63.6" y="314.60" text-anchor="end">0.4</text><text class="b tl" x="63.6" y="261.85" text-anchor="end">0.6</text><text class="b tl" x="63.6" y="209.10" text-anchor="end">0.8</text><text class="b tl" x="63.6" y="156.35" text-anchor="end"><tspan class="o" font-size="15.07" dx="0.74" dy="0.57" stroke-width="0.6">1</tspan><tspan dx="0.74" dy="-0.57">.0</tspan></text><text class="b tl" x="63.6" y="103.60" text-anchor="end"><tspan class="o" font-size="15.07" dx="0.74" dy="0.57" stroke-width="0.6">1</tspan><tspan dx="0.74" dy="-0.57">.2</tspan></text><text class="b tl" x="63.6" y="50.85" text-anchor="end"><tspan class="o" font-size="15.07" dx="0.74" dy="0.57" stroke-width="0.6">1</tspan><tspan dx="0.74" dy="-0.57">.4</tspan></text><text class="b tl" x="71.60" y="434.3" text-anchor="middle">0</text><text class="b tl" x="163.22" y="434.3" text-anchor="middle"><tspan class="o" font-size="15.07" dx="0.74" dy="0.57" stroke-width="0.6">1</tspan></text><text class="b tl" x="254.84" y="434.3" text-anchor="middle">2</text><text class="b tl" x="346.46" y="434.3" text-anchor="middle">3</text><text class="b tl" x="438.08" y="434.3" text-anchor="middle">4</text><text class="b tl" x="529.70" y="434.3" text-anchor="middle">5</text></g>
<text class="b" x="238" y="25.4" font-size="19">V<tspan font-size="12.8" dy="5.7">REF</tspan><tspan dy="-5.7"> VS V</tspan><tspan font-size="12.8" dy="5.7">INPUT</tspan></text>
<text class="b" x="259.3" y="464.5" font-size="19.5">V<tspan font-size="13.2" dy="5.5">INPUT</tspan><tspan dy="-5.5"> (V)</tspan></text>
<text class="b" transform="translate(29.8 353.9) rotate(-90)" x="0" y="0" font-size="19.4">Reference Voltage, V<tspan font-size="13.0" dy="5.6">REF</tspan><tspan dy="-5.6"> (V)</tspan></text>
<rect x="238.7" y="285.0" width="278.9" height="120.4" fill="#fff" stroke="#666" stroke-width="1.2"/><line x1="240.6" y1="298.1" x2="284.5" y2="298.1" stroke="#000" stroke-width="1.85"/><g fill="#000"><circle cx="262.50" cy="298.10" r="2.6"/></g><text class="lt" x="290.0" y="304.0" font-size="19.3">Sample <tspan class="o" font-size="17.95" dx="0.88" dy="0.68" stroke-width="0.35">1</tspan></text><text class="lt" x="290.0" y="327.5" font-size="19.3">Sample 3</text><text class="lt" x="290.0" y="351.0" font-size="19.3">Sample 5</text><text class="lt" x="290.0" y="374.5" font-size="19.3">Sample 7</text><line x1="240.6" y1="392.2" x2="284.5" y2="392.2" stroke="#000" stroke-width="1.6"/><g fill="#000"><path d="M262.50 389.40L263.50 391.20L265.90 392.20L263.50 393.20L262.50 395.00L261.50 393.20L259.10 392.20L261.50 391.20Z"/></g><text class="lt" x="290.0" y="398.1" font-size="19.3">Sample 9</text><line x1="375.2" y1="298.1" x2="419" y2="298.1" stroke="#000" stroke-width="1.8"/><g fill="#000"><circle cx="397.00" cy="298.10" r="2.3"/></g><text class="lt" x="423.9" y="304.0" font-size="19.3">Sample 2</text><line x1="375.2" y1="321.6" x2="419" y2="321.6" stroke="#000" stroke-width="1.8"/><g fill="#000"><path d="M394.00 319.80H400.00L397.00 324.90Z"/></g><text class="lt" x="423.9" y="327.5" font-size="19.3">Sample 4</text><line x1="375.2" y1="345.1" x2="419" y2="345.1" stroke="#000" stroke-width="1.8"/><g fill="#000"><path d="M393.70 345.10L398.80 342.10V348.10Z"/></g><text class="lt" x="423.9" y="351.0" font-size="19.3">Sample 6</text><line x1="375.2" y1="368.6" x2="419" y2="368.6" stroke="#000" stroke-width="1.8"/><g fill="#000"><circle cx="397.00" cy="368.60" r="2.0"/></g><text class="lt" x="423.9" y="374.5" font-size="19.3">Sample 8</text><line x1="375.2" y1="392.2" x2="419" y2="392.2" stroke="#000" stroke-width="1.8"/><g fill="#000"><circle cx="397.00" cy="392.20" r="2.6"/></g><text class="lt" x="423.9" y="398.1" font-size="19.3">Sample <tspan class="o" font-size="17.95" dx="0.88" dy="0.68" stroke-width="0.35">1</tspan><tspan dx="0.88" dy="-0.68">0</tspan></text>
</svg></body></html>
